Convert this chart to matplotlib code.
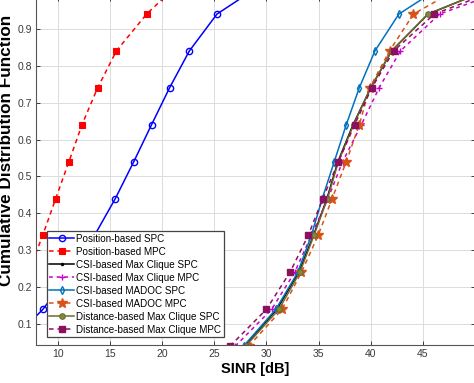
import numpy as np
import matplotlib
matplotlib.use("Agg")
import matplotlib.pyplot as plt

plt.rcParams['font.family'] = ['Liberation Sans', 'DejaVu Sans']

# CDF levels where the markers sit
levels = [0.04, 0.14, 0.24, 0.34, 0.44, 0.54, 0.64, 0.74, 0.84, 0.94]

# Position-based curves (left)
pos_spc_y = [0.11, 0.14, 0.24, 0.34, 0.44, 0.54, 0.64, 0.74, 0.84, 0.94, 0.98, 1.0]
pos_spc_x = [7.5, 8.56, 11.2, 13.5, 15.5, 17.27, 18.97, 20.7, 22.6, 25.25, 27.4, 29.5]
pos_mpc_y = [0.29, 0.34, 0.44, 0.54, 0.64, 0.74, 0.84, 0.94, 0.98, 1.0]
pos_mpc_x = [7.85, 8.53, 9.78, 11.05, 12.3, 13.8, 15.6, 18.5, 20.0, 22.0]

# clustered curves (right), values at levels + 0.98
top_y = levels + [0.98]
csi_mc_spc = [27.9, 31.0, 33.1, 34.5, 35.8, 36.85, 38.3, 40.0, 42.0, 45.5, 49.0]
csi_mc_mpc = [27.0, 30.5, 32.7, 34.3, 35.9, 37.3, 39.1, 40.8, 42.85, 46.6, 50.5]
madoc_spc = [27.8, 30.9, 33.0, 34.3, 35.35, 36.5, 37.65, 38.9, 40.4, 42.7, 44.9]
madoc_mpc = [28.3, 31.5, 33.35, 34.95, 36.3, 37.65, 38.9, 39.9, 41.8, 44.1, 46.6]
dist_mc_spc = [28.0, 31.2, 33.2, 34.55, 35.85, 36.9, 38.35, 40.0, 42.0, 45.5, 49.0]
dist_mc_mpc = [26.5, 30.0, 32.25, 34.0, 35.4, 36.9, 38.45, 40.1, 42.2, 46.1, 49.8]

labels = ['Position-based SPC', 'Position-based MPC', 'CSI-based Max Clique SPC',
          'CSI-based Max Clique MPC', 'CSI-based MADOC SPC', 'CSI-based MADOC MPC',
          'Distance-based Max Clique SPC', 'Distance-based Max Clique MPC']


def marks(y):
    return [round(v, 2) in levels for v in y]


fig = plt.figure(figsize=(4.74, 3.83), dpi=100)
W, H = 474, 383
# axes box: 36..475 px wide, -3..345 px tall (top/right spines just outside)
ax = fig.add_axes([36 / W, 1 - 345 / H, 439 / W, 348 / H])

lw = 1.1
ax.plot(pos_spc_x, pos_spc_y, '-', color='#0000ff', lw=lw, marker='o', ms=4.5,
        mfc='none', mew=1.0, markevery=marks(pos_spc_y), label=labels[0])
ax.plot(pos_mpc_x, pos_mpc_y, '--', color='#ff0000', lw=lw, marker='s', ms=4,
        mew=0.8, markevery=marks(pos_mpc_y), label=labels[1], dashes=(3, 2.5))
ax.plot(csi_mc_spc, top_y, '-', color='black', lw=lw, marker='.', ms=3,
        markevery=marks(top_y), label=labels[2])
ax.plot(csi_mc_mpc, top_y, '--', color='#cc00cc', lw=lw, marker='+', ms=5,
        markevery=marks(top_y), label=labels[3], dashes=(2.5, 2.5))
ax.plot(madoc_spc, top_y, '-', color='#0072bd', lw=lw, marker='d', ms=4,
        mfc='none', mew=1.0, markevery=marks(top_y), label=labels[4])
ax.plot(madoc_mpc, top_y, '--', color='#d95319', lw=lw, marker='*', ms=7,
        markevery=marks(top_y), label=labels[5], dashes=(3, 2.5))
ax.plot(dist_mc_spc, top_y, '-', color='#6f6a2a', lw=lw, marker='o', ms=4,
        mfc='#7f8a40', mew=0.8, markevery=marks(top_y), label=labels[6])
ax.plot(dist_mc_mpc, top_y, '--', color='#8b1060', lw=lw, marker='s', ms=4,
        markevery=marks(top_y), label=labels[7], dashes=(3, 2.5))

ax.set_xlim(7.89, 50.0)
ax.set_ylim(0.0431, 0.9862)
ax.set_xticks([10, 15, 20, 25, 30, 35, 40, 45])
ax.set_yticks([0.1, 0.2, 0.3, 0.4, 0.5, 0.6, 0.7, 0.8, 0.9])
ax.grid(True, color='#dcdcdc', lw=0.7)
ax.tick_params(direction='in', length=3, width=0.7, top=True, right=True,
               labelsize=7.5, colors='#3a3a3a', pad=3)
for s in ax.spines.values():
    s.set_color('#555555')
    s.set_linewidth(0.8)

ax.set_xlabel('SINR [dB]', fontsize=10.5, fontweight='bold', va='top')
ax.xaxis.set_label_coords((255 - 36) / 439, -(362 - 345) / 348)
ax.set_ylabel('Cumulative Distribution Function', fontsize=12.3, fontweight='bold')
ax.yaxis.set_label_coords(-(36 - 14) / 439, (345 - 150) / 348)

leg = ax.legend(loc='lower left', bbox_to_anchor=(47 / W, 1 - 337 / H),
                bbox_transform=fig.transFigure, fontsize=7.1, frameon=True,
                fancybox=False, borderpad=0.25, labelspacing=0.3,
                handlelength=2.5, handletextpad=0.2, borderaxespad=0)
leg.get_frame().set_edgecolor('#444444')
leg.get_frame().set_linewidth(0.9)
leg.get_frame().set_alpha(1)

fig.savefig('out.png', dpi=100)
